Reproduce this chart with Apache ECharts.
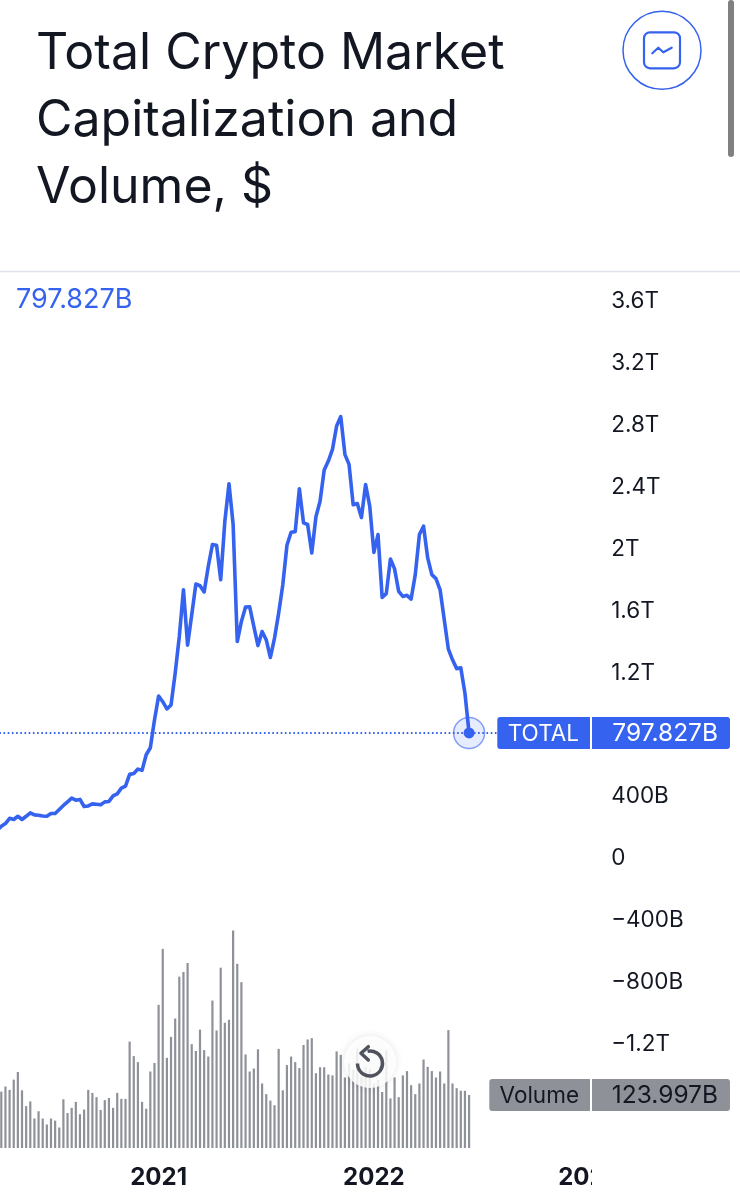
<!DOCTYPE html>
<html>
<head>
<meta charset="utf-8">
<title>Total Crypto Market Capitalization and Volume</title>
<script src="https://cdn.jsdelivr.net/npm/echarts@6/dist/echarts.min.js"></script>
<style>
  html, body { margin: 0; padding: 0; background: #fff; }
  #chart { width: 740px; height: 1200px; }
</style>
</head>
<body>
<div id="chart"></div>
<script>
// weekly total market cap, in trillions
var totalCap = [
  0.170, 0.194, 0.212, 0.246, 0.238, 0.259, 0.238, 0.259, 0.281, 0.268, 0.266, 0.261, 0.259, 0.277, 0.277,
  0.303, 0.329, 0.352, 0.376, 0.363, 0.368, 0.322, 0.326, 0.339, 0.337, 0.333, 0.352, 0.355, 0.391, 0.404,
  0.441, 0.454, 0.530, 0.536, 0.564, 0.556, 0.657, 0.702, 0.882, 1.037, 1.000, 0.953, 0.979, 1.184, 1.422,
  1.724, 1.366, 1.562, 1.761, 1.750, 1.710, 1.876, 2.016, 2.012, 1.789, 2.167, 2.410, 2.146, 1.389, 1.519,
  1.612, 1.614, 1.487, 1.363, 1.454, 1.400, 1.286, 1.411, 1.573, 1.757, 2.012, 2.096, 2.100, 2.377, 2.157,
  2.146, 1.962, 2.196, 2.297, 2.498, 2.556, 2.632, 2.783, 2.844, 2.600, 2.535, 2.274, 2.282, 2.191, 2.405,
  2.265, 1.966, 2.081, 1.675, 1.699, 1.923, 1.859, 1.713, 1.681, 1.688, 1.664, 1.822, 2.081, 2.135, 1.930,
  1.822, 1.796, 1.724, 1.530, 1.340, 1.271, 1.214, 1.219, 1.055, 0.797827
];
// weekly volume, in billions
var volume = [
  130, 132, 144, 136, 160, 178, 135, 98, 109, 69, 86, 69, 55, 69, 64,
  48, 114, 82, 94, 108, 79, 90, 136, 129, 119, 89, 112, 117, 94, 129,
  115, 115, 249, 215, 201, 108, 92, 179, 199, 335, 466, 211, 260, 303, 401,
  412, 433, 243, 227, 277, 229, 214, 345, 275, 422, 293, 300, 509, 431, 388,
  219, 179, 186, 231, 151, 126, 111, 100, 232, 135, 194, 214, 201, 187, 241,
  254, 257, 175, 189, 189, 172, 170, 226, 218, 165, 198, 183, 233, 167, 190,
  183, 151, 159, 131, 229, 116, 165, 119, 170, 180, 147, 126, 151, 207, 190,
  180, 165, 179, 151, 276, 151, 140, 134, 134, 123.997
];
var priceTicks = ['−1.6T', '−1.2T', '−800B', '−400B', '0', '400B', '800B', '1.2T', '1.6T', '2T', '2.4T', '2.8T', '3.2T', '3.6T'];
var yearIndex = [39, 91, 143];
var yearLabels = ['2021', '2022', '2023'];

var blue = '#3562ee';
var dark = '#131722';
var gray = '#8f9199';
var font = 'Inter';

// one slot per week, the axis runs on past the last value
var weeks = [];
for (var i = 0; i < 144; i++) {
  weeks.push(new Date(Date.UTC(2020, 3, 6 + i * 7)).toISOString().slice(0, 10));
}
var lastCap = totalCap[totalCap.length - 1];
var lastVol = volume[volume.length - 1];
var lastIdx = totalCap.length - 1;

var chart = echarts.init(document.getElementById('chart'));
var option = {
  animation: false,
  backgroundColor: '#fff',
  textStyle: { fontFamily: font },
  title: [
    {
      text: 'Total Crypto Market\nCapitalization and\nVolume, $',
      left: 31,
      top: 15,
      textStyle: { fontFamily: font, fontSize: 50, fontWeight: 400, lineHeight: 67, color: dark }
    },
    {
      text: '797.827B',
      left: 11,
      top: 281,
      textStyle: { fontFamily: font, fontSize: 27, fontWeight: 400, color: blue }
    }
  ],
  grid: [
    { left: -4.9, width: 596.1, top: 299.7, height: 804, outerBoundsMode: 'none' },
    { left: -4.9, width: 596.1, top: 891.6, height: 256.4, outerBoundsMode: 'none' }
  ],
  xAxis: [
    { type: 'category', gridIndex: 0, data: weeks, show: false },
    {
      type: 'category',
      gridIndex: 1,
      data: weeks,
      axisLine: { show: false },
      axisTick: { show: false },
      axisLabel: {
        interval: function (idx) { return yearIndex.indexOf(idx) >= 0; },
        formatter: function (val, idx) { return yearLabels[yearIndex.indexOf(idx)] || ''; },
        margin: 18,
        hideOverlap: false,
        fontFamily: font,
        fontSize: 24,
        fontWeight: 700,
        color: dark
      }
    }
  ],
  yAxis: [
    {
      type: 'value',
      gridIndex: 0,
      position: 'right',
      min: -1.6,
      max: 3.6,
      interval: 0.4,
      splitLine: { show: false },
      axisLine: { show: false },
      axisTick: { show: false },
      axisLabel: {
        margin: 20,
        showMinLabel: false,
        formatter: function (val, idx) { return '{t|' + priceTicks[idx] + '}'; },
        rich: {
          t: { fontFamily: font, fontSize: 22.5, color: dark, padding: [4, 0, 0, 0] }
        }
      }
    },
    { type: 'value', gridIndex: 1, min: 0, max: 600, show: false }
  ],
  series: [
    {
      name: 'Volume',
      type: 'bar',
      xAxisIndex: 1,
      yAxisIndex: 1,
      barWidth: 2.2,
      itemStyle: { color: gray },
      data: volume
    },
    {
      name: 'TOTAL',
      type: 'line',
      xAxisIndex: 0,
      yAxisIndex: 0,
      showSymbol: false,
      lineStyle: { color: blue, width: 3.6, join: 'round' },
      markLine: {
        silent: true,
        symbol: 'none',
        label: { show: false },
        lineStyle: { color: blue, width: 2, type: [1.6, 2.6], opacity: 1 },
        data: [{ yAxis: lastCap }]
      },
      markPoint: {
        silent: true,
        label: { show: false },
        data: [
          {
            coord: [lastIdx, lastCap],
            symbol: 'circle',
            symbolSize: 31,
            itemStyle: { color: 'rgba(53,98,238,0.12)', borderColor: 'rgba(53,98,238,0.6)', borderWidth: 1.5 }
          },
          {
            coord: [lastIdx, lastCap],
            symbol: 'circle',
            symbolSize: 11,
            itemStyle: { color: blue }
          }
        ]
      },
      data: totalCap
    }
  ]
};
chart.setOption(option);

// tags sit on the last values
var capY = chart.convertToPixel({ yAxisIndex: 0 }, lastCap);
var volY = chart.convertToPixel({ yAxisIndex: 1 }, lastVol);

function tag(y, x0, fill, textColor, name, value) {
  return [
    { type: 'rect', z: 100, shape: { x: x0, y: y - 16, width: 590 - x0, height: 32, r: [3, 0, 0, 3] }, style: { fill: fill } },
    { type: 'rect', z: 100, shape: { x: 592, y: y - 16, width: 138, height: 32, r: [0, 3, 3, 0] }, style: { fill: fill } },
    { type: 'text', z: 101, x: 579, y: y + 1, style: { text: name, fill: textColor, font: '22.5px ' + font, align: 'right', verticalAlign: 'middle' } },
    { type: 'text', z: 101, x: 718, y: y + 1, style: { text: value, fill: textColor, font: '24.5px ' + font, align: 'right', verticalAlign: 'middle' } }
  ];
}

chart.setOption({
  graphic: [
    // header rule, scrollbar and the chart-type button
    { type: 'line', shape: { x1: 0, y1: 271.5, x2: 740, y2: 271.5 }, style: { stroke: '#e0e3eb', lineWidth: 1.5 } },
    { type: 'rect', shape: { x: 728, y: 0, width: 6, height: 157, r: 3 }, style: { fill: '#808080' } },
    { type: 'circle', shape: { cx: 662, cy: 50.3, r: 39 }, style: { fill: '#fff', stroke: blue, lineWidth: 1.5 } },
    { type: 'rect', shape: { x: 644, y: 32.3, width: 36, height: 36, r: 6 }, style: { fill: 'none', stroke: blue, lineWidth: 2.2 } },
    { type: 'polyline', shape: { points: [[652.3, 53.3], [658.3, 47.7], [663.3, 52.3], [671.7, 47.7]] }, style: { fill: 'none', stroke: blue, lineWidth: 2.2, lineCap: 'round', lineJoin: 'round' } },
    // reset button over the volume bars
    { type: 'circle', z: 100, shape: { cx: 370, cy: 1062, r: 26 }, style: { fill: 'rgba(255,255,255,0.85)', shadowBlur: 8, shadowColor: 'rgba(0,0,0,0.12)' } },
    { type: 'arc', z: 101, shape: { cx: 370, cy: 1063.5, r: 12.5, startAngle: -Math.PI / 2 - 0.2, endAngle: Math.PI, clockwise: true }, style: { fill: 'none', stroke: '#50535e', lineWidth: 3.5 } },
    { type: 'polyline', z: 101, shape: { points: [[368.3, 1046.7], [361, 1053.3], [368.3, 1060]] }, style: { fill: 'none', stroke: '#50535e', lineWidth: 3.5, lineCap: 'round', lineJoin: 'round' } },
    // the price scale column cuts off the time labels
    { type: 'rect', z: 100, shape: { x: 592, y: 1160, width: 148, height: 40 }, style: { fill: '#fff' } }
  ]
    .concat(tag(capY, 497.3, blue, '#fff', 'TOTAL', '797.827B'))
    .concat(tag(volY, 489.3, gray, dark, 'Volume', '123.997B'))
});
</script>
</body>
</html>
